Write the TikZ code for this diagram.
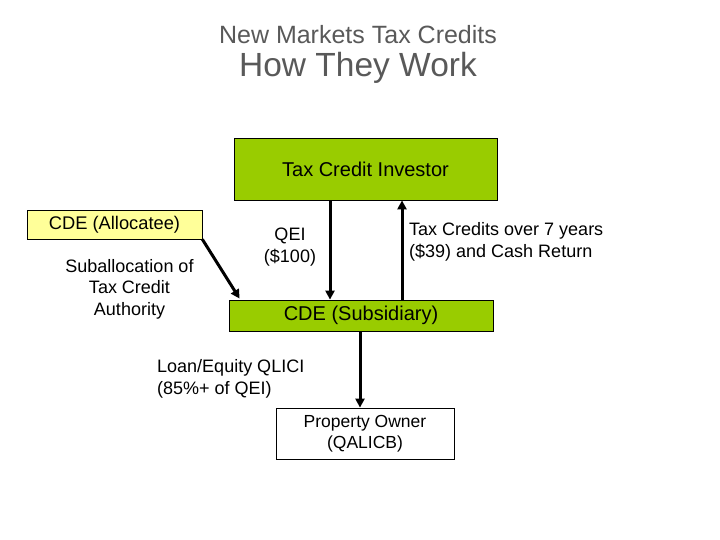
\documentclass[tikz,border=0pt]{standalone}
\usepackage{fontspec}
\setmainfont{Liberation Sans}
\usetikzlibrary{arrows.meta,calc}
\definecolor{grn}{HTML}{99CC00}
\definecolor{ylw}{HTML}{FFFF99}
\definecolor{ttl}{HTML}{595959}
\tikzset{
  box/.style={draw=black, line width=0.8pt, inner sep=0pt, align=center},
  lbl/.style={inner sep=0pt, font=\fontsize{18}{21.5}\selectfont},
  arr/.style={line width=3pt, -{Triangle[width=9pt,length=9pt]}},
}
\begin{document}
\begin{tikzpicture}[x=1pt,y=-1pt]
\useasboundingbox (0,0) rectangle (720,540);
\node[inner sep=0pt, text=ttl, font=\fontsize{25}{29}\selectfont] (t1) at (358,35) {New Markets Tax Credits};
\node[inner sep=0pt, text=ttl, font=\fontsize{33.5}{38}\selectfont] (t2) at (358,68) {How They Work};

\node[box, fill=grn, minimum width=263pt, minimum height=62pt, font=\fontsize{20}{23}\selectfont] (inv) at (365.5,169) {Tax Credit Investor};
\node[box, fill=ylw, minimum width=175pt, minimum height=29pt, font=\fontsize{18.3}{21}\selectfont] (alloc) at (114.5,224.5) {CDE (Allocatee)};
\node[box, fill=grn, minimum width=264pt, minimum height=31pt, font=\fontsize{20}{23}\selectfont] (sub) at (361,315.5) {CDE (Subsidiary)};
\node[box, fill=white, minimum width=178pt, minimum height=51pt, font=\fontsize{17.5}{21}\selectfont] (own) at (365,433.5) {Property Owner\\(QALICB)};

\node[lbl, align=center] (qei) at (290,247) {QEI\\(\$100)};
\node[lbl, align=left, anchor=west] (tc) at (409,242) {Tax Credits over 7 years\\(\$39) and Cash Return};
\node[lbl, align=center] (suba) at (129.5,289) {Suballocation of\\Tax Credit\\Authority};
\node[lbl, align=left, anchor=west] (loan) at (157,379) {Loan/Equity QLICI\\(85\%+ of QEI)};

\coordinate (qx) at (330,0);
\coordinate (cx) at (402,0);
\coordinate (lx) at (360,0);
\coordinate (ae) at ($(sub.north west)+(11,-1)$);
\draw[arr] (qx |- inv.south) -- (qx |- sub.north);
\draw[arr] (cx |- sub.north) -- (cx |- inv.south);
\draw[arr] (lx |- sub.south) -- (lx |- own.north);
\draw[arr] (alloc.south east) -- (ae);
\end{tikzpicture}
\end{document}
